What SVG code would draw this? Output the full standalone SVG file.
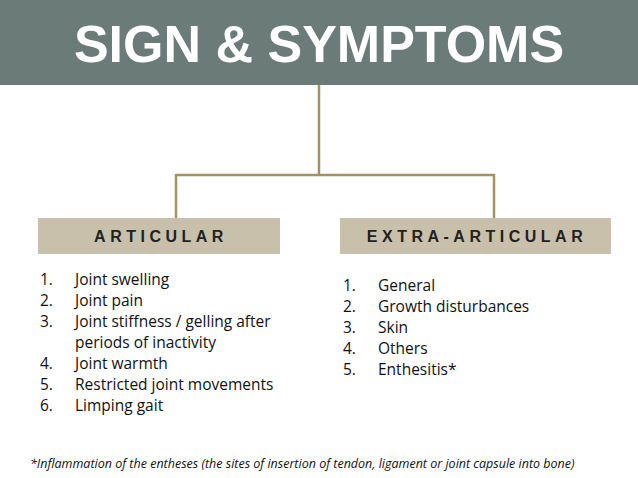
<svg xmlns="http://www.w3.org/2000/svg" width="638" height="478" viewBox="0 0 638 478">
<style>
.t{font-family:"Open Sans","Liberation Sans",sans-serif;font-size:15.5px;fill:#111}
.h{font-family:"Liberation Sans",sans-serif;font-weight:bold;font-size:16px;letter-spacing:4.5px;fill:#222}
.box{fill:#c8c0aa}
.c{stroke:#a3935f;stroke-width:2.5;fill:none}
</style>
<rect width="638" height="478" fill="#fff"/>
<g id="header"><rect x="0" y="0" width="638" height="85" fill="#6b7b78"/>
<text x="319" y="62" text-anchor="middle" font-family="Liberation Sans,sans-serif" font-weight="bold" font-size="52" fill="#fff">SIGN &amp; SYMPTOMS</text></g>
<g id="connectors"><path class="c" d="M319 85V175M176 175H494M176 174V218M494 174V218"/></g>
<g id="articular"><rect class="box" x="38" y="218" width="242" height="36"/>
<text class="h" x="161" y="242" text-anchor="middle">ARTICULAR</text>
<g class="t">
<text x="40" y="285">1.</text><text x="75" y="285">Joint swelling</text>
<text x="40" y="306">2.</text><text x="75" y="306">Joint pain</text>
<text x="40" y="327">3.</text><text x="75" y="327">Joint stiffness / gelling after</text>
<text x="75" y="348">periods of inactivity</text>
<text x="40" y="369">4.</text><text x="75" y="369">Joint warmth</text>
<text x="40" y="390">5.</text><text x="75" y="390">Restricted joint movements</text>
<text x="40" y="411">6.</text><text x="75" y="411">Limping gait</text></g></g>
<g id="extra"><rect class="box" x="340" y="218" width="271" height="36"/>
<text class="h" x="477" y="242" text-anchor="middle">EXTRA-ARTICULAR</text>
<g class="t">
<text x="343" y="291">1.</text><text x="378" y="291">General</text>
<text x="343" y="312">2.</text><text x="378" y="312">Growth disturbances</text>
<text x="343" y="333">3.</text><text x="378" y="333">Skin</text>
<text x="343" y="354">4.</text><text x="378" y="354">Others</text>
<text x="343" y="375">5.</text><text x="378" y="375">Enthesitis*</text></g></g>
<text x="30" y="468" font-family="Open Sans,Liberation Sans,sans-serif" font-style="italic" font-size="12.5" fill="#111">*Inflammation of the entheses (the sites of insertion of tendon, ligament or joint capsule into bone)</text>
</svg>
